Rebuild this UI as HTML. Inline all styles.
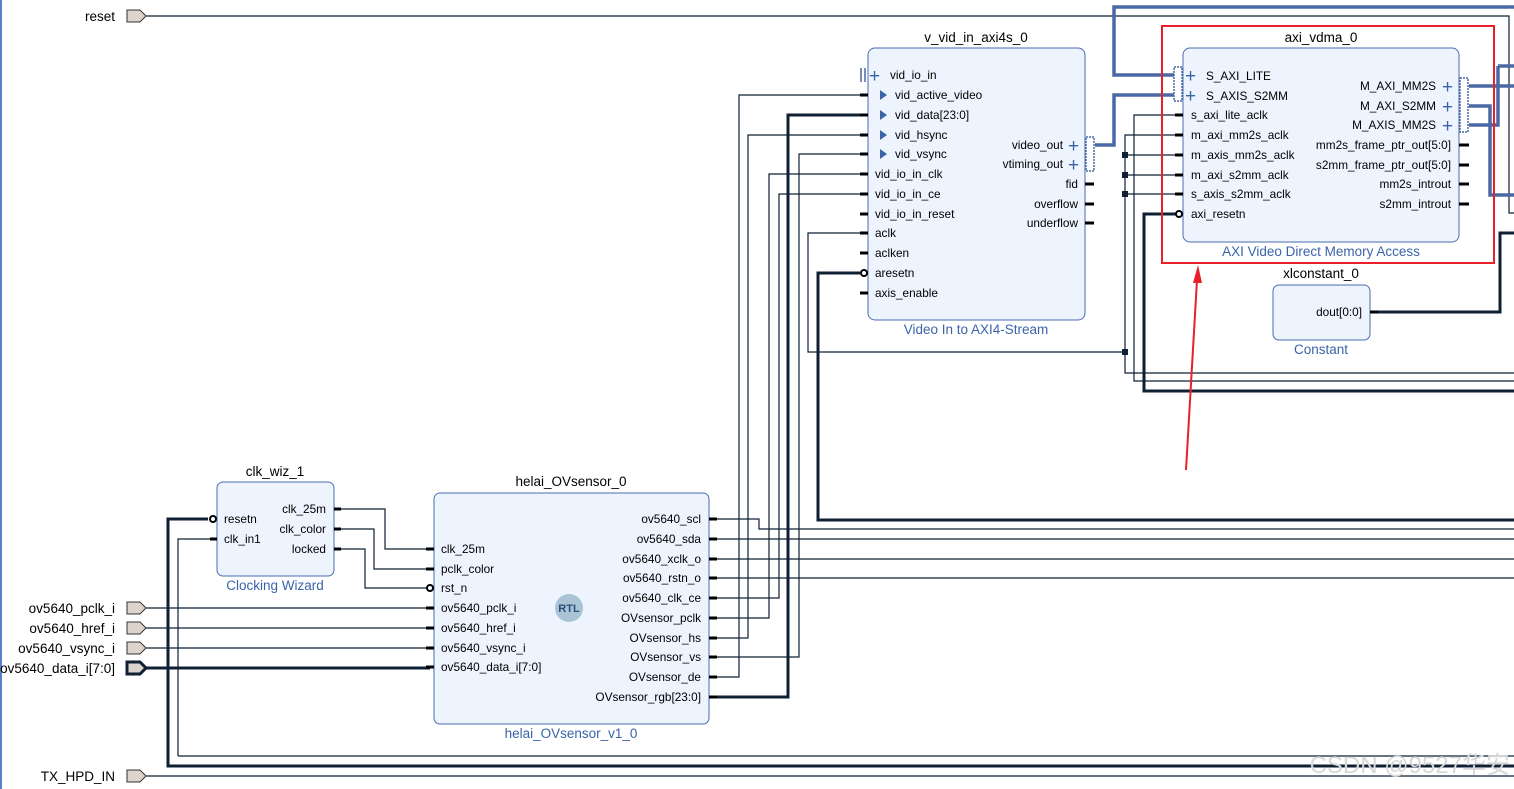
<!DOCTYPE html>
<html><head><meta charset="utf-8"><style>
html,body{margin:0;padding:0;background:#fff;}
svg{display:block;font-family:"Liberation Sans",sans-serif;}
text{font-size:11.8px;fill:#000;}
.t{font-size:13.5px;}
.s{font-size:13.5px;fill:#3b63a8;}
.p{fill:#3b63a8;font-size:19px;}
.w{stroke:#0f2035;stroke-width:1.2;fill:none;}
.b{stroke:#0f2035;stroke-width:3;fill:none;}
.bl{stroke:#4a68a6;stroke-width:3.5;fill:none;}
.box{fill:#edf4fe;stroke:#4a6db0;stroke-width:1;}
.pin{stroke:#000;stroke-width:3;}
.port{fill:#dcd3cd;stroke:#333;stroke-width:1;}
</style></head><body>
<svg width="1514" height="789" viewBox="0 0 1514 789">
<rect x="0" y="0" width="2" height="789" fill="#5b82c8"/>
<g class="w">
<path d="M146 16H1509V213H1514"/>
<path d="M146 608H430M146 628H430M146 648H430M146 776H1514"/>
<path d="M178 756V539H212M178 756H1514"/>
<path d="M338 509H385V549H430M338 529H374V569H430M338 549H365V588H430"/>
<path d="M713 519H759V529H1514M713 539H1514M713 559H1514M713 578H1514"/>
<path d="M713 598H779V194H864M713 618H769V174H864M713 638H748V135H864M713 657H799V154H864M713 677H739V95H864"/>
<path d="M864 233H808V352H1125"/>
<path d="M1180 135H1125V373H1514M1125 155H1180M1125 175H1180M1125 194H1180"/>
<path d="M1180 115H1134V381H1514"/>
</g>
<g fill="#0f2035"><rect x="1122" y="152" width="6" height="6"/><rect x="1122" y="172" width="6" height="6"/><rect x="1122" y="191" width="6" height="6"/><rect x="1122" y="349" width="6" height="6"/></g>
<g class="b">
<path d="M146 668H430"/>
<path d="M208 519H168V766H1514"/>
<path d="M713 697H788V115H864"/>
<path d="M860 273H818V520H1514"/>
<path d="M1178 214H1144V391H1514"/>
<path d="M1376 312H1500V233H1514"/>
</g>
<g class="bl">
<path d="M1174 75H1114V7H1514"/>
<path d="M1095 145H1114V95H1174"/>
<path d="M1469 86H1514M1498 66H1514M1498 66V125H1469"/>
<path d="M1469 106H1490V195H1514"/>
</g>
<g>
<path class="port" d="M127 10H140L146 16L140 22H127Z"/>
<path class="port" d="M127 602H140L146 608L140 614H127Z"/>
<path class="port" d="M127 622H140L146 628L140 634H127Z"/>
<path class="port" d="M127 642H140L146 648L140 654H127Z"/>
<path class="port" d="M127 662H140L146 668L140 674H127Z" style="stroke:#0f2035;stroke-width:3"/>
<path class="port" d="M127 770H140L146 776L140 782H127Z"/>
</g>
<g text-anchor="end">
<text x="115" y="21" class="t">reset</text>
<text x="115" y="613" class="t">ov5640_pclk_i</text>
<text x="115" y="633" class="t">ov5640_href_i</text>
<text x="115" y="653" class="t">ov5640_vsync_i</text>
<text x="115" y="673" class="t">ov5640_data_i[7:0]</text>
<text x="115" y="781" class="t">TX_HPD_IN</text>
</g>
<rect class="box" x="217" y="482" width="117" height="94" rx="6"/>
<text x="275" y="476" class="t" text-anchor="middle">clk_wiz_1</text>
<text x="275" y="590" class="s" text-anchor="middle">Clocking Wizard</text>
<line class="pin" x1="334" y1="509" x2="341" y2="509"/><line class="pin" x1="334" y1="529" x2="341" y2="529"/><line class="pin" x1="334" y1="549" x2="341" y2="549"/>
<line class="pin" x1="210" y1="539" x2="217" y2="539"/>
<circle cx="213" cy="519" r="3" fill="#fff" stroke="#000" stroke-width="2"/>
<text x="224" y="523">resetn</text><text x="224" y="543">clk_in1</text>
<g text-anchor="end"><text x="326" y="513">clk_25m</text><text x="326" y="533">clk_color</text><text x="326" y="553">locked</text></g>
<rect class="box" x="434" y="493" width="275" height="231" rx="6"/>
<text x="571" y="486" class="t" text-anchor="middle">helai_OVsensor_0</text>
<text x="571" y="738" class="s" text-anchor="middle">helai_OVsensor_v1_0</text>
<circle cx="569" cy="608" r="14" fill="#a9c4d4"/>
<text x="569" y="612" text-anchor="middle" style="font-size:11px;font-weight:bold;fill:#2b4f7a">RTL</text>
<g class="pin"><line x1="426" y1="549" x2="434" y2="549"/><line x1="426" y1="569" x2="434" y2="569"/><line x1="426" y1="608" x2="434" y2="608"/><line x1="426" y1="628" x2="434" y2="628"/><line x1="426" y1="648" x2="434" y2="648"/><line x1="426" y1="667" x2="434" y2="667"/>
<line x1="709" y1="519" x2="717" y2="519"/><line x1="709" y1="539" x2="717" y2="539"/><line x1="709" y1="559" x2="717" y2="559"/><line x1="709" y1="578" x2="717" y2="578"/><line x1="709" y1="598" x2="717" y2="598"/><line x1="709" y1="618" x2="717" y2="618"/><line x1="709" y1="638" x2="717" y2="638"/><line x1="709" y1="657" x2="717" y2="657"/><line x1="709" y1="677" x2="717" y2="677"/><line x1="709" y1="697" x2="717" y2="697"/></g>
<circle cx="430" cy="588" r="3" fill="#fff" stroke="#000" stroke-width="2"/>
<text x="441" y="553">clk_25m</text><text x="441" y="573">pclk_color</text><text x="441" y="592">rst_n</text><text x="441" y="612">ov5640_pclk_i</text><text x="441" y="632">ov5640_href_i</text><text x="441" y="652">ov5640_vsync_i</text><text x="441" y="671">ov5640_data_i[7:0]</text>
<g text-anchor="end"><text x="701" y="523">ov5640_scl</text><text x="701" y="543">ov5640_sda</text><text x="701" y="563">ov5640_xclk_o</text><text x="701" y="582">ov5640_rstn_o</text><text x="701" y="602">ov5640_clk_ce</text><text x="701" y="622">OVsensor_pclk</text><text x="701" y="642">OVsensor_hs</text><text x="701" y="661">OVsensor_vs</text><text x="701" y="681">OVsensor_de</text><text x="701" y="701">OVsensor_rgb[23:0]</text></g>
<rect class="box" x="868" y="48" width="217" height="272" rx="7"/>
<text x="976" y="42" class="t" text-anchor="middle">v_vid_in_axi4s_0</text>
<text x="976" y="334" class="s" text-anchor="middle">Video In to AXI4-Stream</text>
<path d="M861 68V82M865 68V82" stroke="#4a68a6" stroke-width="1.5"/>
<text x="869" y="82" class="p">+</text><text x="890" y="79">vid_io_in</text>
<g fill="#3b63a8"><path d="M880 90l7 5l-7 5z"/><path d="M880 110l7 5l-7 5z"/><path d="M880 130l7 5l-7 5z"/><path d="M880 149l7 5l-7 5z"/></g>
<text x="895" y="99">vid_active_video</text><text x="895" y="119">vid_data[23:0]</text><text x="895" y="139">vid_hsync</text><text x="895" y="158">vid_vsync</text>
<text x="875" y="178">vid_io_in_clk</text><text x="875" y="198">vid_io_in_ce</text><text x="875" y="218">vid_io_in_reset</text><text x="875" y="237">aclk</text><text x="875" y="257">aclken</text><text x="875" y="277">aresetn</text><text x="875" y="297">axis_enable</text>
<g class="pin"><line x1="860" y1="95" x2="868" y2="95"/><line x1="860" y1="115" x2="868" y2="115"/><line x1="860" y1="135" x2="868" y2="135"/><line x1="860" y1="154" x2="868" y2="154"/><line x1="860" y1="174" x2="868" y2="174"/><line x1="860" y1="194" x2="868" y2="194"/><line x1="860" y1="214" x2="868" y2="214"/><line x1="860" y1="233" x2="868" y2="233"/><line x1="860" y1="253" x2="868" y2="253"/><line x1="860" y1="293" x2="868" y2="293"/>
<line x1="1085" y1="184" x2="1094" y2="184"/><line x1="1085" y1="204" x2="1094" y2="204"/><line x1="1085" y1="223" x2="1094" y2="223"/></g>
<circle cx="864" cy="273" r="3" fill="#fff" stroke="#000" stroke-width="2"/>
<g text-anchor="end"><text x="1063" y="149">video_out</text><text x="1063" y="168">vtiming_out</text><text x="1078" y="188">fid</text><text x="1078" y="208">overflow</text><text x="1078" y="227">underflow</text></g>
<text x="1068" y="152" class="p">+</text><text x="1068" y="171" class="p">+</text>
<rect x="1086" y="137" width="8" height="34" fill="none" stroke="#4a68a6" stroke-width="1.5" stroke-dasharray="2 1"/>
<rect x="1162" y="26" width="332" height="237" fill="none" stroke="#e8202a" stroke-width="2"/>
<rect class="box" x="1183" y="48" width="276" height="194" rx="7"/>
<text x="1321" y="42" class="t" text-anchor="middle">axi_vdma_0</text>
<text x="1321" y="256" class="s" text-anchor="middle">AXI Video Direct Memory Access</text>
<rect x="1174" y="67" width="8" height="34" fill="none" stroke="#4a68a6" stroke-width="1.5" stroke-dasharray="2 1"/>
<text x="1185" y="82" class="p">+</text><text x="1185" y="102" class="p">+</text>
<text x="1206" y="80">S_AXI_LITE</text><text x="1206" y="100">S_AXIS_S2MM</text>
<text x="1191" y="119">s_axi_lite_aclk</text><text x="1191" y="139">m_axi_mm2s_aclk</text><text x="1191" y="159">m_axis_mm2s_aclk</text><text x="1191" y="179">m_axi_s2mm_aclk</text><text x="1191" y="198">s_axis_s2mm_aclk</text><text x="1191" y="218">axi_resetn</text>
<g class="pin"><line x1="1175" y1="115" x2="1183" y2="115"/><line x1="1175" y1="135" x2="1183" y2="135"/><line x1="1175" y1="155" x2="1183" y2="155"/><line x1="1175" y1="175" x2="1183" y2="175"/><line x1="1175" y1="194" x2="1183" y2="194"/>
<line x1="1459" y1="145" x2="1469" y2="145"/><line x1="1459" y1="165" x2="1469" y2="165"/><line x1="1459" y1="184" x2="1469" y2="184"/><line x1="1459" y1="204" x2="1469" y2="204"/></g>
<circle cx="1179" cy="214" r="3" fill="#fff" stroke="#000" stroke-width="2"/>
<g text-anchor="end"><text x="1436" y="90">M_AXI_MM2S</text><text x="1436" y="110">M_AXI_S2MM</text><text x="1436" y="129">M_AXIS_MM2S</text><text x="1451" y="149">mm2s_frame_ptr_out[5:0]</text><text x="1451" y="169">s2mm_frame_ptr_out[5:0]</text><text x="1451" y="188">mm2s_introut</text><text x="1451" y="208">s2mm_introut</text></g>
<text x="1442" y="93" class="p">+</text><text x="1442" y="113" class="p">+</text><text x="1442" y="132" class="p">+</text>
<rect x="1460" y="78" width="8" height="54" fill="none" stroke="#4a68a6" stroke-width="1.5" stroke-dasharray="2 1"/>
<rect class="box" x="1273" y="285" width="97" height="55" rx="6"/>
<text x="1321" y="278" class="t" text-anchor="middle">xlconstant_0</text>
<text x="1362" y="316" text-anchor="end">dout[0:0]</text>
<line class="pin" x1="1370" y1="312" x2="1378" y2="312"/>
<text x="1321" y="354" class="s" text-anchor="middle">Constant</text>
<line x1="1186" y1="470" x2="1197" y2="280" stroke="#e8202a" stroke-width="2"/>
<path d="M1198 265L1193 283L1202 283Z" fill="#e8202a"/>
<text x="1510" y="773" text-anchor="end" style="font-size:24px;fill:#d8d8d8">CSDN @9527华安</text>
</svg>
</body></html>
